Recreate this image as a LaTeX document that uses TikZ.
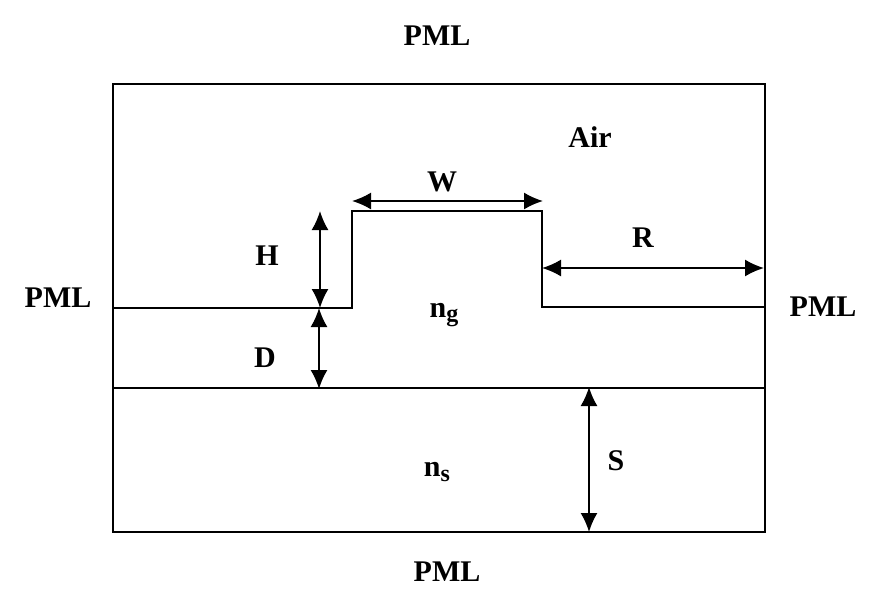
\documentclass[tikz,border=0pt]{standalone}
\usepackage{fontspec}
\setmainfont{Liberation Serif}
\usetikzlibrary{arrows.meta}
\tikzset{
	lbl/.style={font=\bfseries\fontsize{15}{18}\selectfont,inner sep=0pt},
	wall/.style={line width=1pt},
	dim/.style={line width=0.9pt,{Latex[length=9.5pt,width=8.5pt]}-{Latex[length=9.5pt,width=8.5pt]}}
}
\begin{document}
\begin{tikzpicture}[x=0.5pt,y=-0.5pt]
	\useasboundingbox (0,0) rectangle (871,590);
	% outer box
	\draw[wall] (113,84) rectangle (765,532);
	% ridge and the film below it
	\coordinate (leftA) at (113,308);
	\coordinate (ridgeA) at (352,308);
	\coordinate (ridgeB) at (352,211);
	\coordinate (ridgeC) at (542,211);
	\coordinate (ridgeD) at (542,307);
	\coordinate (rightA) at (765,307);
	\draw[wall] (leftA)--(ridgeA)--(ridgeB)--(ridgeC)--(ridgeD)--(rightA);
	\coordinate (leftB) at (113,388);
	\coordinate (rightB) at (765,388);
	\draw[wall] (leftB)--(rightB);
	% dimensions
	\coordinate (wA) at (352,201);
	\coordinate (wB) at (543,201);
	\coordinate (hA) at (320,211);
	\coordinate (hB) at (320,308);
	\coordinate (dA) at (319,308);
	\coordinate (dB) at (319,389);
	\coordinate (rA) at (542,268);
	\coordinate (rB) at (764,268);
	\coordinate (sA) at (589,387);
	\coordinate (sB) at (589,532);
	\draw[dim] (wA)--(wB);
	\draw[dim] (hA)--(hB);
	\draw[dim] (dA)--(dB);
	\draw[dim] (rA)--(rB);
	\draw[dim] (sA)--(sB);
	% labels
	\node[lbl] (wLabel) at (442,182) {W};
	\node[lbl] (hLabel) at (267,256) {H};
	\node[lbl] (dLabel) at (265,358) {D};
	\node[lbl] (rLabel) at (643,238) {R};
	\node[lbl] (sLabel) at (616,461) {S};
	\node[lbl] (air) at (590,137) {Air};
	\node[lbl] (ng) at (444,315) {n\raisebox{-0.3ex}{\fontsize{12}{12}\selectfont g}};
	\node[lbl] (ns) at (437,472) {n\raisebox{-0.3ex}{\fontsize{12}{12}\selectfont s}};
	\node[lbl] (pmlTop) at (437,36) {PML};
	\node[lbl] (pmlBottom) at (447,572) {PML};
	\node[lbl] (pmlLeft) at (58,298) {PML};
	\node[lbl] (pmlRight) at (823,307) {PML};
\end{tikzpicture}
\end{document}
